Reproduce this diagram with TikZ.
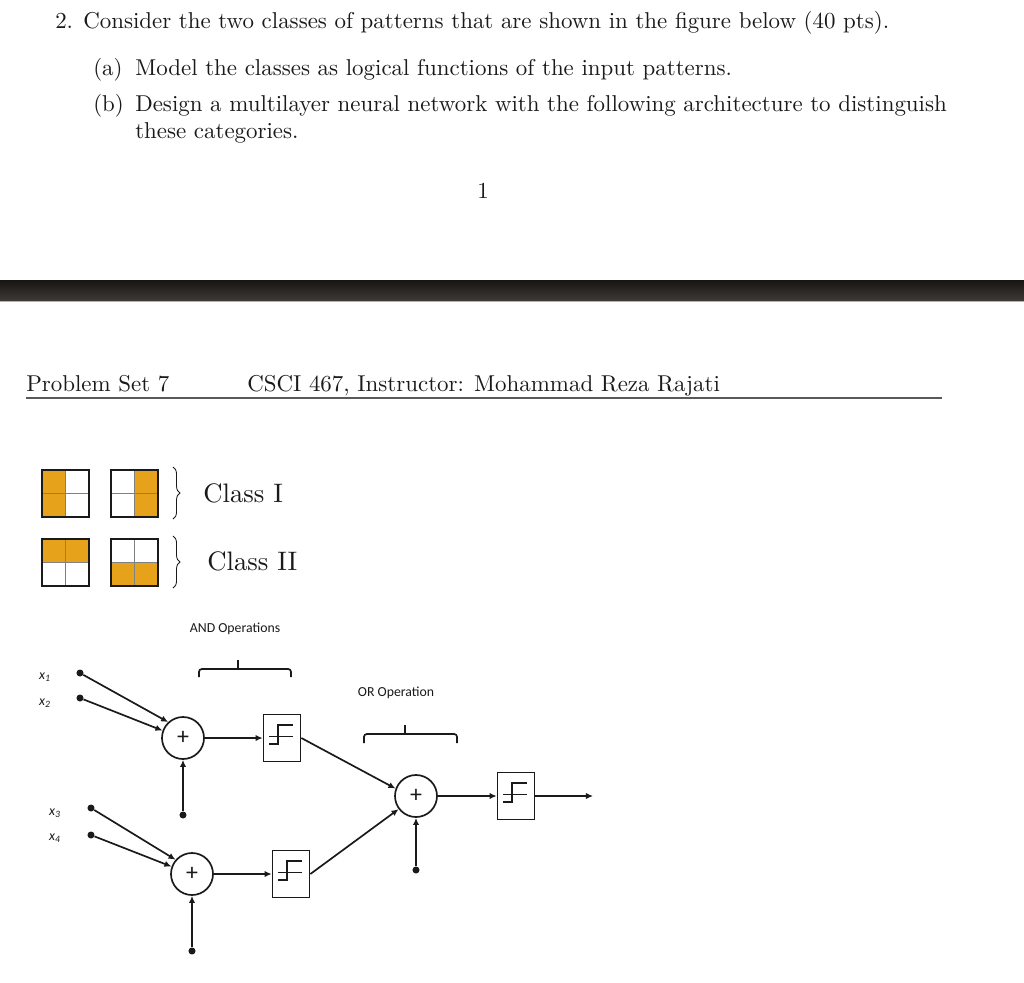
\documentclass[tikz,border=0pt]{standalone}
\usepackage{fontspec}
\newfontfamily\calibri{Carlito}
\newfontfamily\docfont{lmroman10-regular.otf}
\usepackage{tikz}
\usetikzlibrary{arrows.meta,positioning,calc,decorations.pathreplacing}
\definecolor{tile}{HTML}{E6A21A}
\definecolor{bardark}{HTML}{161513}
\definecolor{barlight}{HTML}{3D3A35}
\definecolor{ink}{HTML}{1A1A1A}

\begin{document}
\begin{tikzpicture}[x=0.025cm, y=-0.025cm, ink,
    txt/.style={anchor=base west, inner sep=0pt, font=\docfont\fontsize{16.3}{19}\selectfont},
    cls/.style={anchor=base west, inner sep=0pt, font=\docfont\fontsize{19}{22}\selectfont},
    lbl/.style={inner sep=0pt, font=\calibri\fontsize{9.8}{11}\selectfont},
    sum/.style={circle, draw, line width=1.2pt, minimum size=1.05cm, inner sep=0pt, font=\calibri\fontsize{17}{17}\selectfont},
    act/.style={rectangle, draw, line width=1.2pt, minimum width=0.925cm, minimum height=1.175cm, inner sep=0pt},
    dot/.style={circle, fill, inner sep=0pt, minimum size=5pt},
    wire/.style={line width=1.2pt, -{Latex[length=5pt,width=4.5pt]}}]
    \fill[white] (0,0) rectangle (1024,982);
    \useasboundingbox (0,0) rectangle (1024,982);

    % Question text
    \node[txt] (qnum) at (55,28) {2.};
    \node[txt] (qtext) at (83,28) {Consider the two classes of patterns that are shown in the figure below (40 pts).};
    \node[txt] (qa) at (93,75) {(a)};
    \node[txt] (qatext) at (135,75) {Model the classes as logical functions of the input patterns.};
    \node[txt] (qb) at (93,111) {(b)};
    \node[txt] (qbtext) at (135,111) {Design a multilayer neural network with the following architecture to distinguish};
    \node[txt] (qbtext2) at (135,138) {these categories.};
    \node[txt, anchor=center] (pageno) at (483,191) {1};

    % Page break bar
    \shade[top color=bardark, bottom color=barlight] (0,280) rectangle (1024,300);
    \draw[gray!60, line width=0.6pt] (0,301) -- (1024,301);

    % Running header
    \node[txt] (pset) at (26,391) {Problem Set 7};
    \node[txt] (course) at (247,391) {CSCI 467, Instructor: Mohammad Reza Rajati};
    \draw[gray!70!black, line width=1.2pt] (26,398) -- (942,398);

    % Patterns
    \fill[tile] (42,470) rectangle (65.5,517);
    \fill[tile] (133.5,470) rectangle (157,517);
    \fill[tile] (42,539) rectangle (89,562.5);
    \fill[tile] (111,562.5) rectangle (157,586);
    \foreach \x/\y in {42/470,111/470,42/539,111/539} {
        \draw[gray, line width=0.8pt] (\x+23.5,\y) -- (\x+23.5,\y+47) (\x,\y+23.5) -- (\x+47,\y+23.5);
        \draw[line width=1pt] (\x,\y) rectangle (\x+47,\y+47);
    }
    \draw[decorate, decoration={brace, amplitude=5pt}, line width=0.6pt] (173,467) -- (173,519);
    \draw[decorate, decoration={brace, amplitude=5pt}, line width=0.6pt] (173,536) -- (173,588);
    \node[cls] (c1) at (203,502) {Class I};
    \node[cls] (c2) at (207,570) {Class II};

    % Network
    \node[lbl] (andlbl) at (235,629) {AND Operations};
    \node[lbl] (orlbl) at (396,693) {OR Operation};
    \node[lbl] (x1) at (45,677) {\itshape x\textsubscript{1}};
    \node[lbl] (x2) at (45,703) {\itshape x\textsubscript{2}};
    \node[lbl] (x3) at (55,813) {\itshape x\textsubscript{3}};
    \node[lbl] (x4) at (55,838) {\itshape x\textsubscript{4}};

    \node[dot] (d1) at (80,673) {};
    \node[dot] (d2) at (80,698) {};
    \node[dot] (d3) at (91,808) {};
    \node[dot] (d4) at (91,835) {};
    \node[sum] (s1) at (183,738) {+};
    \node[act] (a1) at (282,738) {};
    \node[dot] (b1) at (183,815) {};
    \node[sum] (s2) at (192,874) {+};
    \node[act] (a2) at (291,874) {};
    \node[dot] (b2) at (192,951) {};
    \node[sum] (s3) at (416,796) {+};
    \node[act] (a3) at (516,796) {};
    \node[dot] (b3) at (416,870) {};
    \coordinate (out) at (593,796);

    \draw[wire] (d1) -- (s1.133);
    \draw[wire] (d2) -- (s1.160);
    \draw[wire] (b1) -- (s1);
    \draw[wire] (s1) -- (a1);
    \draw[wire] (d3) -- (s2.139);
    \draw[wire] (d4) -- (s2.160);
    \draw[wire] (b2) -- (s2);
    \draw[wire] (s2) -- (a2);
    \draw[wire] (a1.east) -- (s3.160);
    \draw[wire] (a2.east) -- (s3.217);
    \draw[wire] (b3) -- (s3);
    \draw[wire] (s3) -- (a3);
    \draw[wire] (a3) -- (out);

    % Step functions
    \foreach \n in {a1,a2,a3} {
        \draw[line width=1.2pt] ($(\n)+(-13,6)$) -- ++(9,0) -- ++(0,-19) -- ++(15,0);
        \draw[line width=0.7pt] ($(\n)+(-13,-2)$) -- ++(24,0);
    }

    % Brackets
    \draw[line width=1.2pt, rounded corners=2pt] (199,677) -- (199,669) -- (291,669) -- (291,677);
    \draw[line width=1.2pt] (238,669) -- (238,660);
    \draw[line width=1.2pt, rounded corners=2pt] (364,743) -- (364,734) -- (457,734) -- (457,743);
    \draw[line width=1.2pt] (405,734) -- (405,725);
\end{tikzpicture}
\end{document}
